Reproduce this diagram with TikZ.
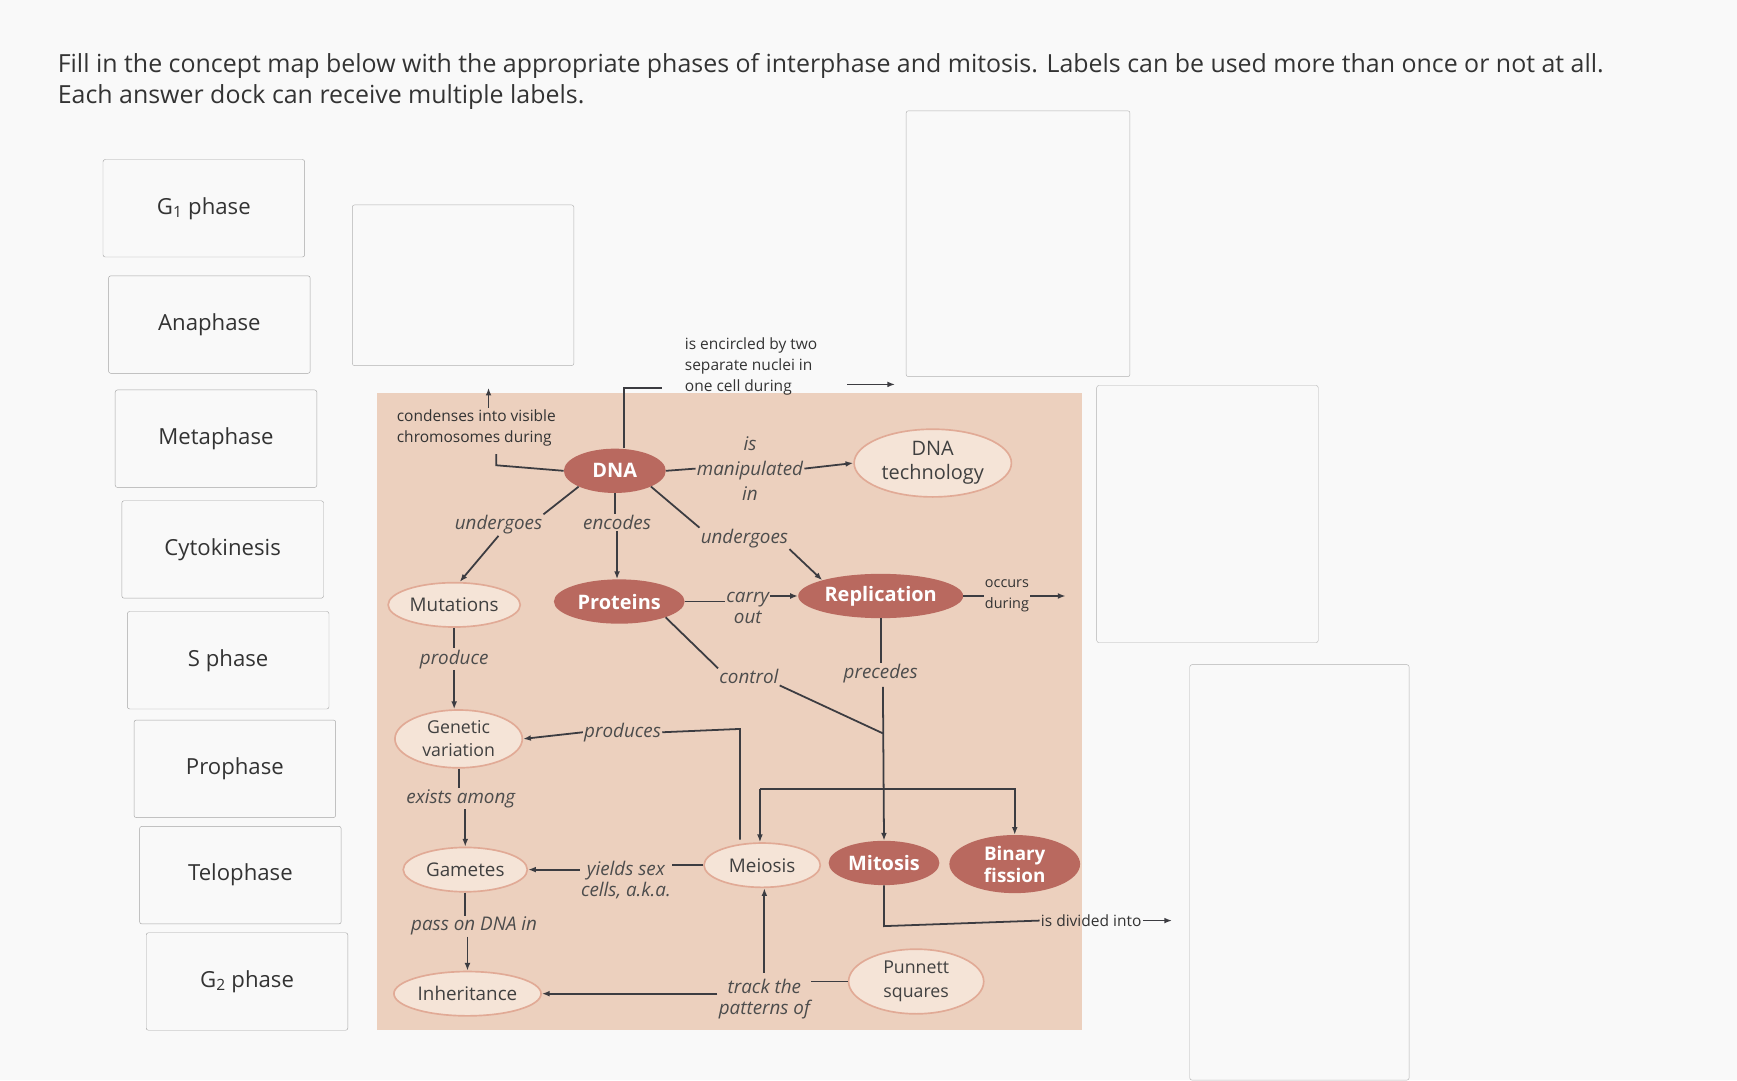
\documentclass[tikz,border=0pt]{standalone}
\usepackage{fontspec}
\setmainfont{Open Sans}
\usetikzlibrary{arrows.meta,shapes.geometric}
\definecolor{dark}{RGB}{185,105,95}
\definecolor{pale}{RGB}{245,228,215}
\definecolor{edge}{RGB}{225,170,150}
\definecolor{bg}{RGB}{236,208,190}
\definecolor{ln}{RGB}{60,60,65}
\tikzset{x=1pt,y=-1pt,
 lab/.style={draw=gray!70,rounded corners=2pt,minimum width=182pt,minimum height=88pt,font=\fontsize{20}{24}\selectfont,text=black!80},
 dock/.style={draw=gray!60,rounded corners=2pt},
 filled/.style={ellipse,fill=dark,text=white,font=\bfseries\fontsize{18}{20}\selectfont,inner sep=2pt,minimum height=40pt},
 open/.style={ellipse,fill=pale,draw=edge,line width=1.5pt,text=black!75,font=\fontsize{17}{19}\selectfont,inner sep=2pt,minimum height=40pt,align=center},
 it/.style={font=\itshape\fontsize{17}{19}\selectfont,text=black!70,align=center,inner sep=1pt},
 sm/.style={font=\fontsize{14}{19}\selectfont,text=black!80,align=left,inner sep=1pt},
 cn/.style={draw=ln,line width=1.6pt},
 ar/.style={draw=ln,line width=1.6pt,-{Latex[length=7pt]}}}
\begin{document}
\begin{tikzpicture}
\useasboundingbox (0,0) rectangle (1568,975);
\fill[white!95!gray] (0,0) rectangle (1568,975);
\node[anchor=north west,align=left,font=\fontsize{22.5}{28}\selectfont,text=black!80,inner sep=0] (title) at (52,48)
 {Fill in the concept map below with the appropriate phases of interphase and mitosis. Labels can be used more than once or not at all.\\Each answer dock can receive multiple labels.};
% labels
\node[lab] (l1) at (184,188) {G\textsubscript{1} phase};
\node[lab] (l2) at (189,293) {Anaphase};
\node[lab] (l3) at (195,396) {Metaphase};
\node[lab] (l4) at (201,496) {Cytokinesis};
\node[lab] (l5) at (206,596) {S phase};
\node[lab] (l6) at (212,694) {Prophase};
\node[lab] (l7) at (217,790) {Telophase};
\node[lab] (l8) at (223,886) {G\textsubscript{2} phase};
% docks
\draw[dock] (318,185) rectangle (518,330);
\draw[dock] (818,100) rectangle (1020,340);
\draw[dock] (990,348) rectangle (1190,580);
\draw[dock] (1074,600) rectangle (1272,975);
% background
\fill[bg] (340,355) rectangle (977,930);
% nodes
\node[filled,minimum width=92pt] (dna) at (555,425) {DNA};
\node[filled,minimum width=118pt] (prot) at (559,543) {Proteins};
\node[filled,minimum width=118pt] (rep) at (795,538) {Replication};
\node[filled,minimum width=100pt] (mit) at (798,779) {Mitosis};
\node[filled,minimum width=118pt,minimum height=48pt,align=center,font=\bfseries\fontsize{17}{20}\selectfont] (bin) at (916,780) {Binary\\fission};
\node[open,minimum width=142pt,minimum height=50pt,font=\fontsize{18}{22}\selectfont] (tech) at (842,418) {DNA\\technology};
\node[open,minimum width=115pt] (mut) at (410,546) {Mutations};
\node[open,minimum width=115pt,minimum height=46pt,font=\fontsize{16}{21}\selectfont] (gen) at (414,667) {Genetic\\variation};
\node[open,minimum width=112pt] (gam) at (420,785) {Gametes};
\node[open,minimum width=105pt] (mei) at (688,781) {Meiosis};
\node[open,minimum width=112pt] (inh) at (422,897) {Inheritance};
\node[open,minimum width=122pt,minimum height=48pt,font=\fontsize{16}{22}\selectfont] (pun) at (827,886) {Punnett\\squares};
% link labels
\node[sm] (t1) at (430,386) {condenses into visible\\chromosomes during};
\node[sm] (t2) at (678,331) {is encircled by two\\separate nuclei in\\one cell during};
\node[it,font=\itshape\fontsize{17}{23}\selectfont] (t3) at (677,423) {is\\manipulated\\in};
\node[it] (t4) at (450,474) {undergoes};
\node[it] (t5) at (557,472) {encodes};
\node[it] (t6) at (672,486) {undergoes};
\node[it] (t7) at (675,549) {carry\\out};
\node[sm,font=\fontsize{13}{19}\selectfont] (t8) at (909,538) {occurs\\during};
\node[it] (t9) at (410,595) {produce};
\node[it] (t10) at (676,611) {control};
\node[it] (t11) at (795,608) {precedes};
\node[it] (t12) at (562,661) {produces};
\node[it] (t13) at (416,721) {exists among};
\node[it] (t14) at (565,794) {yields sex\\cells, a.k.a.};
\node[it] (t15) at (428,836) {pass on DNA in};
\node[it] (t16) at (690,902) {track the\\patterns of};
\node[sm,font=\fontsize{14}{19}\selectfont] (t17) at (985,831) {is divided into};
% coordinates
\coordinate (up1) at (441,350);
\coordinate (d2) at (808,347);
\coordinate (d3) at (962,538);
\coordinate (d4) at (1058,831);
% connectors
\draw[cn] (dna.west) -- (448,420) -- (448,410);
\draw[ar] (441,368) -- (up1);
\draw[cn] (dna.north -| 563,0) -- (563,350) -- (598,350);
\draw[ar] (765,347) -- (d2);
\draw[cn] (dna.east) -- (t3.west);
\draw[ar] (t3.east) -- (tech.west);
\draw[cn] (dna.south west) -- (t4.north east);
\draw[ar] (t4.south) -- ([xshift=5pt]mut.north);
\draw[cn] (dna.south) -- (t5.north -| dna.south);
\draw[ar] (t5.south) -- (prot.north -| t5.south);
\draw[cn] (dna.south east) -- (t6.north west);
\draw[ar] (t6.south east) -- (rep.north west);
\draw[cn] (prot.east) -- (t7.north west |- prot.east);
\draw[ar] (t7.north east |- rep.west) -- (rep.west);
\draw[cn] (prot.south east) -- (t10.north west);
\draw[cn] (t10.south east) -- (797,662);
\draw[cn] (rep.east) -- (t8.west |- rep.east);
\draw[ar] (t8.east |- d3) -- (d3);
\draw[cn] (rep.south -| 795,0) -- (t11.north);
\draw[ar] (797,620) -- (mit.north);
\draw[ar] (686,712) -- (916,712) -- (bin.north);
\draw[ar] (686,712) -- (mei.north -| 686,0);
\draw[cn] (mit.south) -- (798,836) -- (t17.west);
\draw[ar] (t17.east) -- (d4);
\draw[cn] (mut.south) -- (t9.north -| mut.south);
\draw[ar] (t9.south -| mut.south) -- (gen.north -| mut.south);
\draw[cn] (gen.south) -- (t13.north -| gen.south);
\draw[ar] (t13.south -| gam.north) -- (gam.north);
\draw[cn] (gam.south) -- (t15.north -| gam.south);
\draw[ar] (t15.south -| inh.north) -- (inh.north);
\draw[cn] (668,758) -- (668,658) -- (t12.east);
\draw[ar] (t12.west) -- (gen.east);
\draw[cn] (mei.west) -- (t14.east |- mei.west);
\draw[ar] (t14.west |- gam.east) -- (gam.east);
\draw[cn] (pun.west) -- (t16.east |- pun.west);
\draw[ar] (t16.west |- inh.east) -- (inh.east);
\draw[ar] (690,878) -- (mei.south -| 690,0);
\end{tikzpicture}
\end{document}
